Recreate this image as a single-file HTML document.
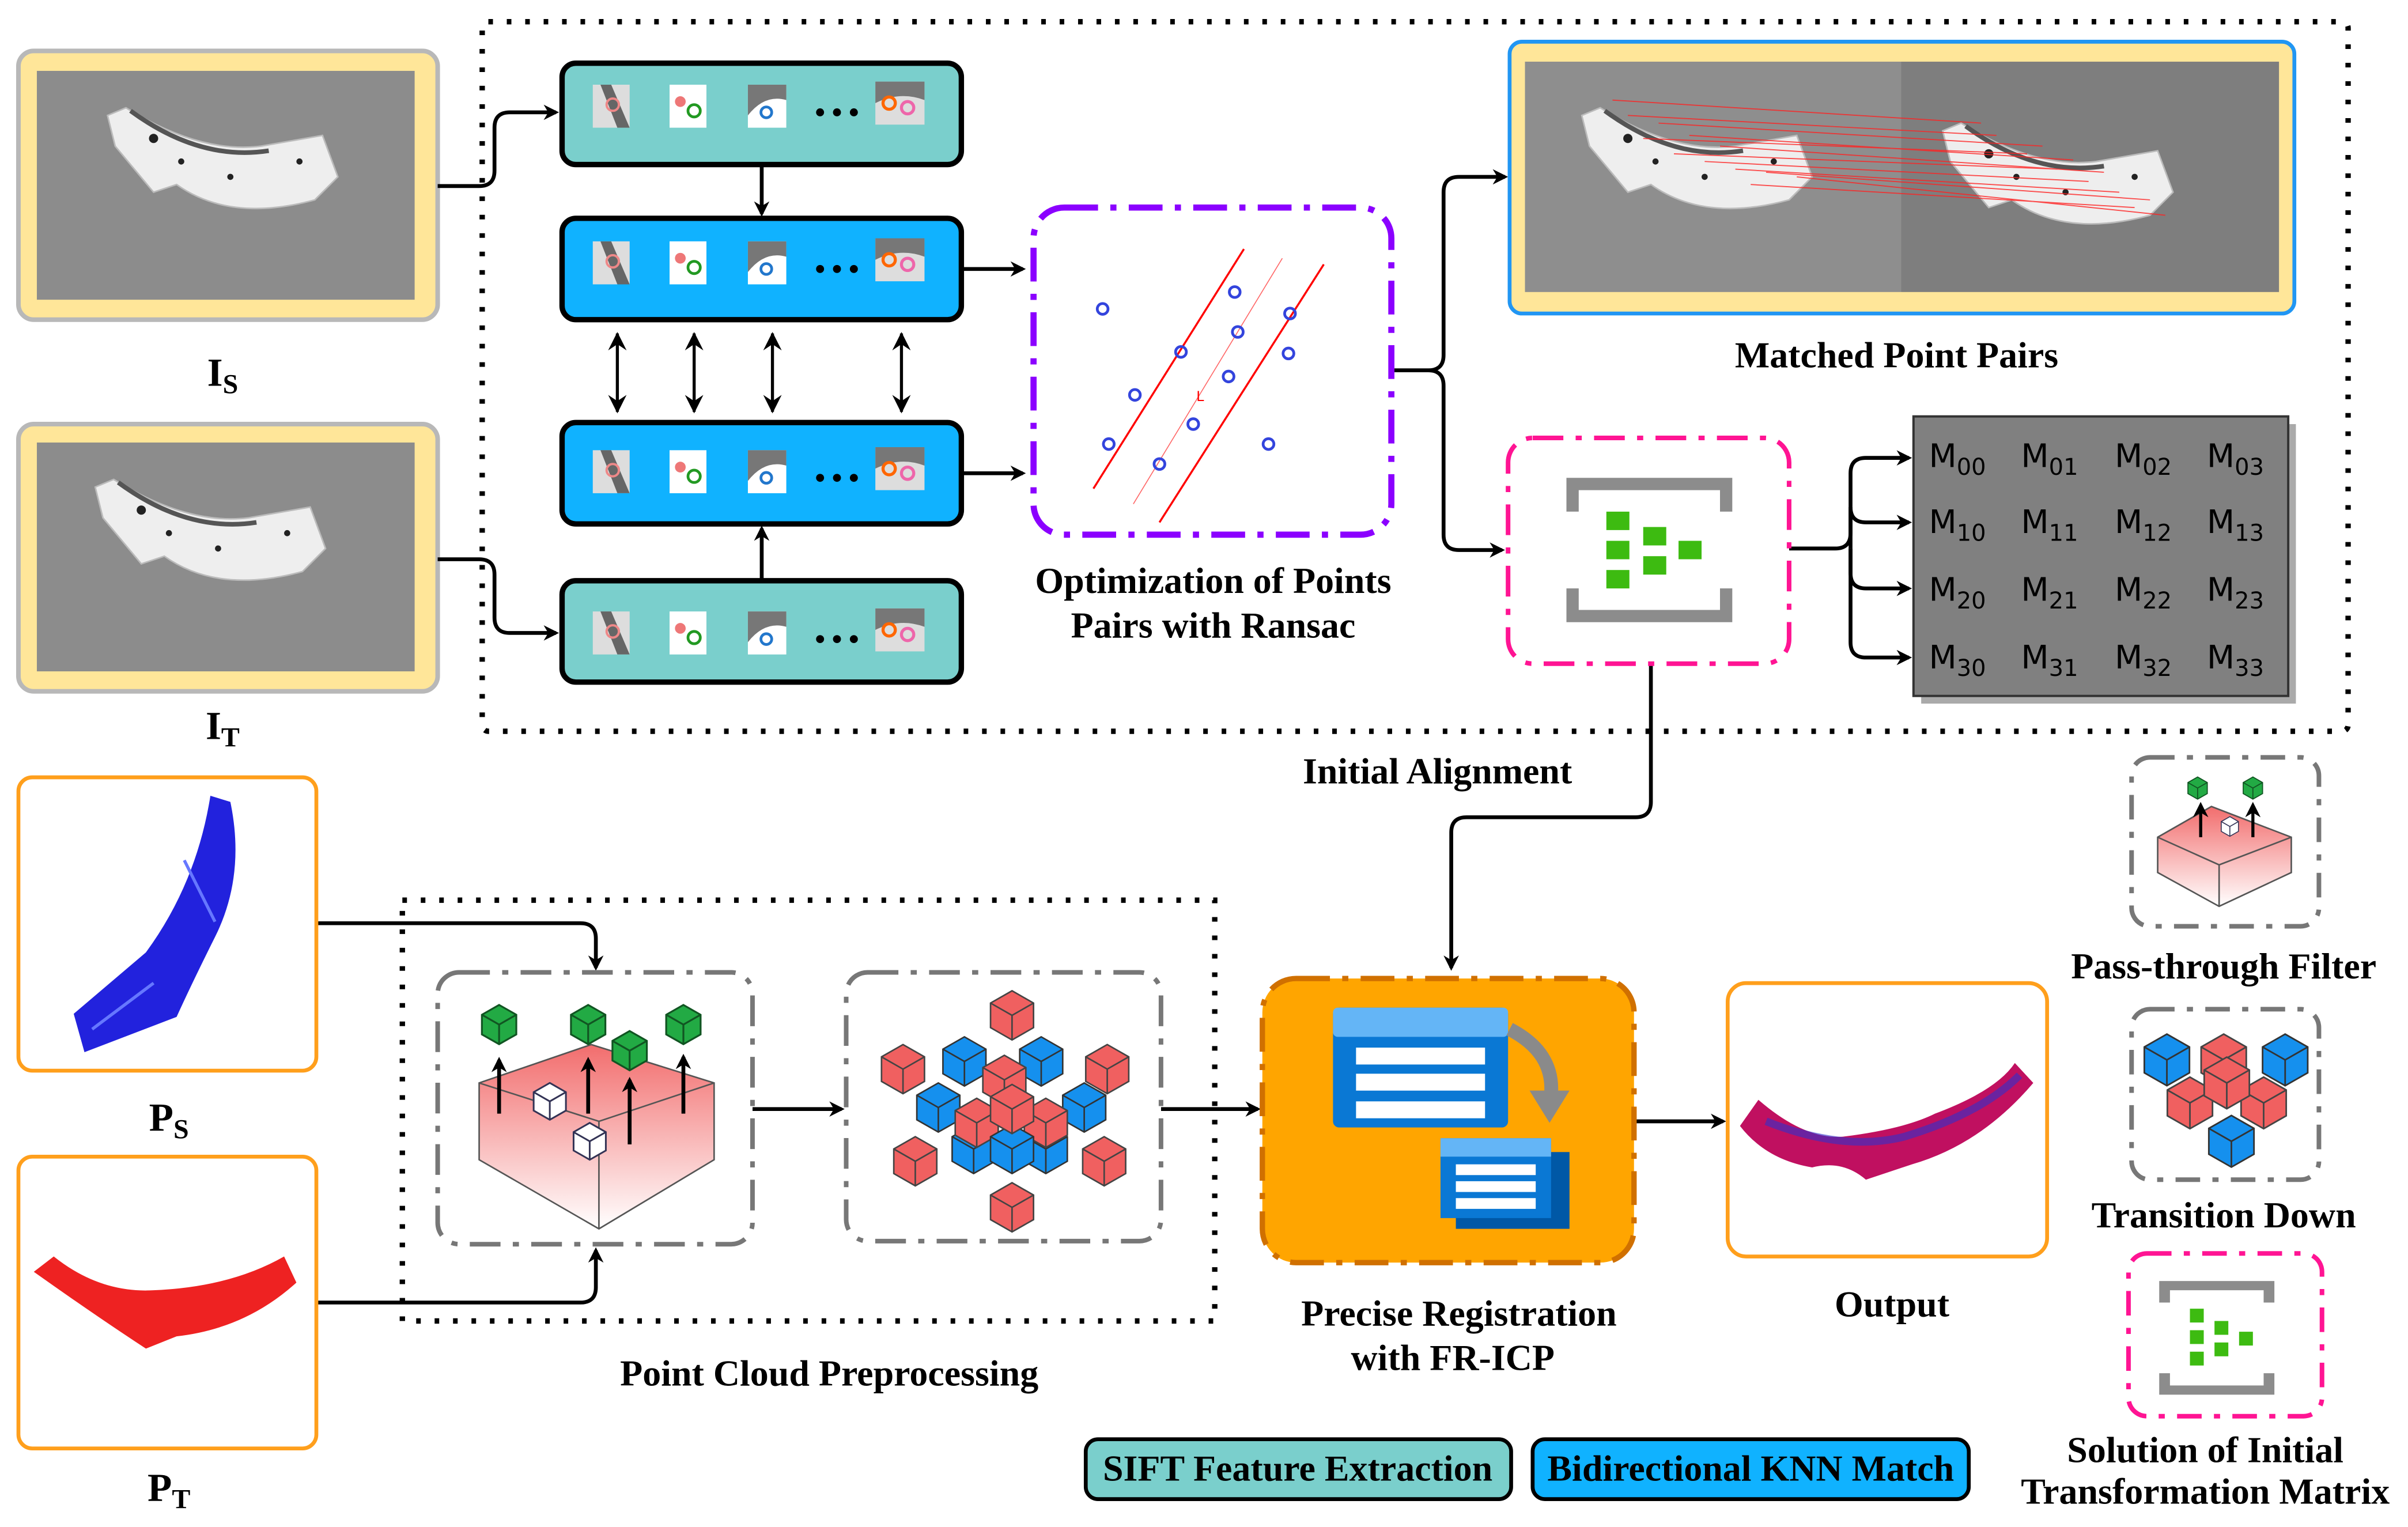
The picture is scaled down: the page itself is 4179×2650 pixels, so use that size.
<!DOCTYPE html>
<html><head><meta charset="utf-8"><style>
html,body{margin:0;padding:0;background:#fff}
svg{display:block}
text{font-family:"Liberation Serif",serif;font-weight:bold;fill:#000}
text.m{font-family:"DejaVu Sans","Liberation Sans",sans-serif;font-weight:normal}
</style></head><body>
<svg width="4179" height="2650" viewBox="0 0 1568 994" xmlns="http://www.w3.org/2000/svg">
<defs>
<marker id="ah" markerWidth="10" markerHeight="10" refX="8" refY="5" orient="auto" markerUnits="userSpaceOnUse"><path d="M0,0 L10,5 L0,10 L3,5 z" fill="#000"/></marker>
<marker id="ahs" markerWidth="12" markerHeight="12" refX="11" refY="6" orient="auto-start-reverse" markerUnits="userSpaceOnUse"><path d="M0,0 L12,6 L0,12 L4,6 z" fill="#000"/></marker>
<linearGradient id="pg" x1="0" y1="0" x2="0" y2="1"><stop offset="0" stop-color="#f26d6d"/><stop offset="1" stop-color="#fff"/></linearGradient>
<g id="cr"><path d="M0,-16 L14,-8 L14,8 L0,16 L-14,8 L-14,-8 z" fill="#f06060" stroke="#444" stroke-width="1"/><path d="M-14,-8 L0,0 L14,-8 M0,0 V16" fill="none" stroke="#444" stroke-width="1"/></g>
<g id="cb"><path d="M0,-16 L14,-8 L14,8 L0,16 L-14,8 L-14,-8 z" fill="#1590ee" stroke="#333" stroke-width="1"/><path d="M-14,-8 L0,0 L14,-8 M0,0 V16" fill="none" stroke="#333" stroke-width="1"/></g>
<g id="cg"><path d="M0,-16 L14,-8 L14,8 L0,16 L-14,8 L-14,-8 z" fill="#22aa44" stroke="#115522" stroke-width="1.5"/><path d="M-14,-8 L0,0 L14,-8 M0,0 V16" fill="none" stroke="#115522" stroke-width="1.5"/></g>
<g id="cw"><path d="M0,-16 L14,-8 L14,8 L0,16 L-14,8 L-14,-8 z" fill="#fff" stroke="#335" stroke-width="1.5"/><path d="M-14,-8 L0,0 L14,-8 M0,0 V16" fill="none" stroke="#335" stroke-width="1.5"/></g>
<g id="thumbs">
 <rect x="0" y="0" width="24" height="28" fill="#ddd"/><path d="M5,0 L12,0 L24,28 L16,28 z" fill="#666"/><circle cx="13" cy="13" r="4" fill="none" stroke="#e88" stroke-width="1.5"/>
 <rect x="50" y="0" width="24" height="28" fill="#fff"/><circle cx="57" cy="11" r="3.5" fill="#e77"/><circle cx="66" cy="17" r="4" fill="none" stroke="#292" stroke-width="1.8"/>
 <rect x="101" y="0" width="25" height="28" fill="#fff"/><path d="M101,0 H126 V10 Q112,6 101,20 z" fill="#777"/><circle cx="113" cy="18" r="3.5" fill="none" stroke="#27c" stroke-width="1.8"/>
 <circle cx="148" cy="18" r="2.6" fill="#000"/><circle cx="159" cy="18" r="2.6" fill="#000"/><circle cx="170" cy="18" r="2.6" fill="#000"/>
 <rect x="184" y="-2" width="32" height="28" fill="#ddd"/><path d="M184,-2 H216 V10 Q200,4 184,12 z" fill="#777"/><circle cx="193" cy="12" r="4" fill="none" stroke="#f60" stroke-width="2"/><circle cx="205" cy="15" r="4" fill="none" stroke="#e6a" stroke-width="2"/>
</g>
<g id="part">
 <path d="M50,55 L62,50 Q110,80 150,75 L190,68 L200,95 L185,110 Q130,125 95,100 L80,105 L55,75 Z" fill="#eee" stroke="#bbb"/>
 <path d="M65,52 Q110,85 155,78" fill="none" stroke="#555" stroke-width="3"/>
 <circle cx="80" cy="70" r="3" fill="#222"/><circle cx="98" cy="85" r="2" fill="#222"/><circle cx="130" cy="95" r="2" fill="#222"/><circle cx="175" cy="85" r="2" fill="#222"/>
</g>
</defs>

<rect x="314" y="14" width="1215" height="462" rx="4" fill="none" stroke="#000" stroke-width="3.5" stroke-dasharray="3,9"/>

<rect x="12" y="33" width="273" height="175" rx="10" fill="#FFE699" stroke="#B8B8B8" stroke-width="3"/>
<rect x="24" y="46" width="246" height="149" fill="#8c8c8c"/>
<use href="#part" x="20" y="20"/>
<text x="145" y="251" font-size="26" text-anchor="middle">I<tspan font-size="18" dy="5">S</tspan></text>
<rect x="12" y="276" width="273" height="174" rx="10" fill="#FFE699" stroke="#B8B8B8" stroke-width="3"/>
<rect x="24" y="288" width="246" height="149" fill="#8c8c8c"/>
<use href="#part" x="12" y="262"/>
<text x="145" y="481" font-size="26" text-anchor="middle">I<tspan font-size="18" dy="5">T</tspan></text>

<rect x="366" y="41" width="260" height="66" rx="9" fill="#7ACFCC" stroke="#000" stroke-width="3.5"/>
<use href="#thumbs" x="386" y="55"/>
<rect x="366" y="142" width="260" height="66" rx="9" fill="#10B2FF" stroke="#000" stroke-width="3.5"/>
<use href="#thumbs" x="386" y="157"/>
<rect x="366" y="275" width="260" height="66" rx="9" fill="#10B2FF" stroke="#000" stroke-width="3.5"/>
<use href="#thumbs" x="386" y="293"/>
<rect x="366" y="378" width="260" height="66" rx="9" fill="#7ACFCC" stroke="#000" stroke-width="3.5"/>
<use href="#thumbs" x="386" y="398"/>

<g fill="none" stroke="#000" stroke-width="2.5">
<path d="M285,121 H312 Q322,121 322,111 V83 Q322,73 332,73 H362" marker-end="url(#ah)"/>
<path d="M285,364 H312 Q322,364 322,374 V402 Q322,412 332,412 H362" marker-end="url(#ah)"/>
<path d="M496,107 V139" marker-end="url(#ah)"/>
<path d="M496,378 V344" marker-end="url(#ah)"/>
<path d="M402,217 V268" marker-start="url(#ahs)" marker-end="url(#ahs)" stroke-width="2"/>
<path d="M452,217 V268" marker-start="url(#ahs)" marker-end="url(#ahs)" stroke-width="2"/>
<path d="M503,217 V268" marker-start="url(#ahs)" marker-end="url(#ahs)" stroke-width="2"/>
<path d="M587,217 V268" marker-start="url(#ahs)" marker-end="url(#ahs)" stroke-width="2"/>
<path d="M626,175 H666" marker-end="url(#ah)"/>
<path d="M626,308 H666" marker-end="url(#ah)"/>
<path d="M906,241 H930 Q940,241 940,231 V125 Q940,115 950,115 H980" marker-end="url(#ah)"/>
<path d="M906,241 H930 Q940,241 940,251 V348 Q940,358 950,358 H978" marker-end="url(#ah)"/>
<path d="M1165,357 H1195 Q1205,357 1205,347 V308 Q1205,298 1215,298 H1243" marker-end="url(#ah)"/>
<path d="M1205,357 V330 Q1205,340 1215,340 H1243" marker-end="url(#ah)"/>
<path d="M1205,357 V373 Q1205,383 1215,383 H1243" marker-end="url(#ah)"/>
<path d="M1205,357 V418 Q1205,428 1215,428 H1243" marker-end="url(#ah)"/>
<path d="M1075,432 V522 Q1075,532 1065,532 H955 Q945,532 945,542 V630" marker-end="url(#ah)"/>
<path d="M206,601 H378 Q388,601 388,611 V630" marker-end="url(#ah)"/>
<path d="M206,848 H378 Q388,848 388,838 V814" marker-end="url(#ah)"/>
<path d="M490,722 H548" marker-end="url(#ah)"/>
<path d="M756,722 H819" marker-end="url(#ah)"/>
<path d="M1064,730 H1122" marker-end="url(#ah)"/>
</g>

<rect x="673" y="135" width="233" height="213" rx="20" fill="#fff" stroke="#8B00FF" stroke-width="4" stroke-dasharray="22,8,4,8"/>
<g stroke="#f00" stroke-width="1.3"><line x1="712" y1="318" x2="810" y2="162"/><line x1="755" y1="340" x2="862" y2="172"/></g>
<line x1="738" y1="328" x2="835" y2="168" stroke="#f66" stroke-width="0.6"/>
<g fill="none" stroke="#3344dd" stroke-width="1.8">
<circle cx="718" cy="201" r="3.5"/><circle cx="769" cy="229" r="3.5"/><circle cx="739" cy="257" r="3.5"/><circle cx="722" cy="289" r="3.5"/><circle cx="755" cy="302" r="3.5"/><circle cx="804" cy="190" r="3.5"/><circle cx="806" cy="216" r="3.5"/><circle cx="800" cy="245" r="3.5"/><circle cx="777" cy="276" r="3.5"/><circle cx="840" cy="204" r="3.5"/><circle cx="839" cy="230" r="3.5"/><circle cx="826" cy="289" r="3.5"/></g>
<text x="779" y="261" font-size="9" class="m" style="fill:#f00">L</text>
<text x="790" y="386" font-size="24" text-anchor="middle">Optimization of Points</text>
<text x="790" y="415" font-size="24" text-anchor="middle">Pairs with Ransac</text>

<rect x="983" y="27" width="511" height="177" rx="8" fill="#FFE699" stroke="#2196F3" stroke-width="2.5"/>
<rect x="993" y="40" width="245" height="150" fill="#8e8e8e"/><rect x="1238" y="40" width="246" height="150" fill="#7e7e7e"/>
<use href="#part" x="980" y="20"/><use href="#part" x="1215" y="30"/>
<g stroke="#f22" stroke-width="0.7" opacity="0.8">
<line x1="1060" y1="75" x2="1300" y2="88"/><line x1="1070" y1="90" x2="1320" y2="100"/><line x1="1090" y1="100" x2="1340" y2="110"/><line x1="1110" y1="105" x2="1360" y2="118"/><line x1="1130" y1="110" x2="1380" y2="125"/><line x1="1150" y1="112" x2="1400" y2="130"/><line x1="1080" y1="80" x2="1330" y2="95"/><line x1="1100" y1="88" x2="1350" y2="104"/><line x1="1120" y1="95" x2="1370" y2="112"/><line x1="1140" y1="120" x2="1390" y2="135"/><line x1="1170" y1="115" x2="1410" y2="140"/><line x1="1050" y1="65" x2="1290" y2="80"/></g>
<text x="1235" y="239" font-size="24" text-anchor="middle">Matched Point Pairs</text>

<rect x="982" y="285" width="183" height="147" rx="16" fill="#fff" stroke="#FF1493" stroke-width="3" stroke-dasharray="20,8,4,8"/>
<g fill="#8c8c8c"><path d="M1020,311 H1128 V333 H1120 V319 H1028 V333 H1020 z"/><path d="M1020,405 H1128 V383 H1120 V397 H1028 V383 H1020 z"/></g>
<g fill="#3dbb11"><rect x="1046" y="333" width="15" height="12"/><rect x="1046" y="352" width="15" height="12"/><rect x="1046" y="371" width="15" height="12"/><rect x="1070" y="343" width="15" height="12"/><rect x="1070" y="362" width="15" height="12"/><rect x="1093" y="352" width="15" height="12"/></g>

<rect x="1251" y="276" width="244" height="182" fill="#aaa"/>
<rect x="1246" y="271" width="244" height="182" fill="#808080" stroke="#333" stroke-width="1.5"/>
<text class="m" x="1256" y="304" font-size="21">M<tspan font-size="15" dy="5">00</tspan></text><text class="m" x="1316" y="304" font-size="21">M<tspan font-size="15" dy="5">01</tspan></text><text class="m" x="1377" y="304" font-size="21">M<tspan font-size="15" dy="5">02</tspan></text><text class="m" x="1437" y="304" font-size="21">M<tspan font-size="15" dy="5">03</tspan></text>
<text class="m" x="1256" y="347" font-size="21">M<tspan font-size="15" dy="5">10</tspan></text><text class="m" x="1316" y="347" font-size="21">M<tspan font-size="15" dy="5">11</tspan></text><text class="m" x="1377" y="347" font-size="21">M<tspan font-size="15" dy="5">12</tspan></text><text class="m" x="1437" y="347" font-size="21">M<tspan font-size="15" dy="5">13</tspan></text>
<text class="m" x="1256" y="391" font-size="21">M<tspan font-size="15" dy="5">20</tspan></text><text class="m" x="1316" y="391" font-size="21">M<tspan font-size="15" dy="5">21</tspan></text><text class="m" x="1377" y="391" font-size="21">M<tspan font-size="15" dy="5">22</tspan></text><text class="m" x="1437" y="391" font-size="21">M<tspan font-size="15" dy="5">23</tspan></text>
<text class="m" x="1256" y="435" font-size="21">M<tspan font-size="15" dy="5">30</tspan></text><text class="m" x="1316" y="435" font-size="21">M<tspan font-size="15" dy="5">31</tspan></text><text class="m" x="1377" y="435" font-size="21">M<tspan font-size="15" dy="5">32</tspan></text><text class="m" x="1437" y="435" font-size="21">M<tspan font-size="15" dy="5">33</tspan></text>
<text x="936" y="510" font-size="24" text-anchor="middle">Initial Alignment</text>

<rect x="12" y="506" width="194" height="191" rx="9" fill="#fff" stroke="#FF9F1C" stroke-width="2.5"/>
<path d="M137,518 L150,522 Q160,570 140,610 Q125,640 115,662 L55,685 L48,660 L95,620 Q128,575 137,518 z" fill="#2222dd"/>
<path d="M60,670 L100,640 M120,560 L140,600" stroke="#6677ff" stroke-width="2" fill="none"/>
<text x="110" y="736" font-size="26" text-anchor="middle">P<tspan font-size="18" dy="5">S</tspan></text>
<rect x="12" y="753" width="194" height="190" rx="9" fill="#fff" stroke="#FF9F1C" stroke-width="2.5"/>
<path d="M22,828 L35,818 Q65,842 100,840 Q150,838 185,818 L193,835 Q160,865 115,870 L95,878 Q60,855 22,828 z" fill="#ee2222"/>
<text x="110" y="977" font-size="26" text-anchor="middle">P<tspan font-size="18" dy="5">T</tspan></text>

<rect x="262" y="586" width="529" height="274" fill="none" stroke="#000" stroke-width="3.5" stroke-dasharray="3,9"/>
<rect x="285" y="633" width="205" height="177" rx="14" fill="#fff" stroke="#777" stroke-width="3" stroke-dasharray="20,8,4,8"/>
<path d="M312,705 L385,680 L465,705 L465,755 L390,800 L312,755 z" fill="url(#pg)" stroke="#555"/>
<path d="M312,705 L390,730 L465,705 M390,730 V800" fill="none" stroke="#555"/>
<use href="#cg" transform="translate(325,667) scale(0.8)"/><use href="#cg" transform="translate(383,667) scale(0.8)"/><use href="#cg" transform="translate(410,684) scale(0.8)"/><use href="#cg" transform="translate(445,667) scale(0.8)"/>
<use href="#cw" transform="translate(358,717) scale(0.75)"/><use href="#cw" transform="translate(384,743) scale(0.75)"/>
<g stroke="#000" stroke-width="2.5" fill="none"><path d="M325,725 V690" marker-end="url(#ah)"/><path d="M383,725 V690" marker-end="url(#ah)"/><path d="M410,745 V703" marker-end="url(#ah)"/><path d="M445,725 V688" marker-end="url(#ah)"/></g>

<rect x="551" y="633" width="205" height="175" rx="14" fill="#fff" stroke="#777" stroke-width="3" stroke-dasharray="20,8,4,8"/>
<use href="#cr" transform="translate(659,661)"/><use href="#cr" transform="translate(588,696)"/><use href="#cr" transform="translate(721,696)"/><use href="#cr" transform="translate(596,756)"/><use href="#cr" transform="translate(719,756)"/><use href="#cr" transform="translate(659,786)"/>
<use href="#cb" transform="translate(628,691)"/><use href="#cb" transform="translate(678,691)"/><use href="#cb" transform="translate(611,721)"/><use href="#cb" transform="translate(706,721)"/><use href="#cb" transform="translate(634,748)"/><use href="#cb" transform="translate(681,748)"/>
<use href="#cr" transform="translate(654,703)"/><use href="#cr" transform="translate(636,731)"/><use href="#cr" transform="translate(681,731)"/>
<use href="#cb" transform="translate(659,748)"/><use href="#cr" transform="translate(659,722)"/>
<text x="540" y="902" font-size="24" text-anchor="middle">Point Cloud Preprocessing</text>

<rect x="822" y="637" width="242" height="185" rx="22" fill="#FFA500" stroke="#D07000" stroke-width="3.5" stroke-dasharray="22,8,4,8"/>
<rect x="868" y="656" width="114" height="78" rx="4" fill="#0a78d4"/><rect x="868" y="656" width="114" height="19" rx="3" fill="#64b5f6"/>
<g fill="#fff"><rect x="883" y="682" width="84" height="11"/><rect x="883" y="699" width="84" height="11"/><rect x="883" y="717" width="84" height="11"/></g>
<path d="M983,670 Q1012,685 1010,712" fill="none" stroke="#8a8a8a" stroke-width="9"/><path d="M996,710 L1022,710 L1009,731 z" fill="#8a8a8a"/>
<rect x="948" y="750" width="74" height="50" fill="#0058a6"/>
<rect x="938" y="741" width="72" height="52" fill="#0a78d4"/><rect x="938" y="741" width="72" height="12" fill="#64b5f6"/>
<g fill="#fff"><rect x="948" y="758" width="52" height="7"/><rect x="948" y="769" width="52" height="7"/><rect x="948" y="780" width="52" height="7"/></g>
<text x="950" y="863" font-size="24" text-anchor="middle">Precise Registration</text>
<text x="946" y="892" font-size="24" text-anchor="middle">with FR-ICP</text>

<rect x="1125" y="640" width="208" height="178" rx="12" fill="#fff" stroke="#FF9F1C" stroke-width="2.5"/>
<path d="M1133,733 L1145,716 Q1175,742 1200,740 Q1240,735 1260,725 Q1300,710 1312,692 L1324,705 Q1290,745 1245,758 L1215,768 Q1200,755 1180,760 Q1150,755 1133,733 z" fill="#c01060"/>
<path d="M1150,730 Q1200,750 1240,740 Q1290,725 1315,700" fill="none" stroke="#3030cc" stroke-width="5" opacity="0.6"/>
<text x="1232" y="857" font-size="24" text-anchor="middle">Output</text>

<rect x="707" y="937" width="277" height="39" rx="8" fill="#7ACFCC" stroke="#000" stroke-width="2.5"/>
<text x="845" y="964" font-size="24" text-anchor="middle">SIFT Feature Extraction</text>
<rect x="998" y="937" width="284" height="39" rx="8" fill="#10B2FF" stroke="#000" stroke-width="2.5"/>
<text x="1140" y="964" font-size="24" text-anchor="middle">Bidirectional KNN Match</text>

<rect x="1388" y="493" width="122" height="110" rx="12" fill="#fff" stroke="#777" stroke-width="3" stroke-dasharray="16,8,4,8"/>
<path d="M1405,545 L1440,525 L1492,545 L1492,568 L1445,590 L1405,568 z" fill="url(#pg)" stroke="#555"/>
<path d="M1405,545 L1445,563 L1492,545 M1445,563 V590" fill="none" stroke="#555"/>
<use href="#cg" transform="translate(1431,513) scale(0.45)"/><use href="#cg" transform="translate(1467,513) scale(0.45)"/>
<use href="#cw" transform="translate(1452,538) scale(0.4)"/>
<g stroke="#000" stroke-width="2" fill="none"><path d="M1433,545 V524" marker-end="url(#ah)"/><path d="M1467,545 V524" marker-end="url(#ah)"/></g>
<text x="1448" y="637" font-size="24" text-anchor="middle">Pass-through Filter</text>

<rect x="1388" y="657" width="122" height="111" rx="12" fill="#fff" stroke="#777" stroke-width="3" stroke-dasharray="16,8,4,8"/>
<use href="#cb" transform="translate(1411,690) scale(1.05)"/><use href="#cb" transform="translate(1488,690) scale(1.05)"/>
<use href="#cr" transform="translate(1448,690) scale(1.05)"/><use href="#cr" transform="translate(1426,718) scale(1.05)"/><use href="#cr" transform="translate(1474,718) scale(1.05)"/><use href="#cr" transform="translate(1450,705) scale(1.05)"/>
<use href="#cb" transform="translate(1453,743) scale(1.05)"/>
<text x="1448" y="799" font-size="24" text-anchor="middle">Transition Down</text>

<rect x="1386" y="816" width="126" height="106" rx="12" fill="#fff" stroke="#FF1493" stroke-width="3" stroke-dasharray="16,8,4,8"/>
<g fill="#8c8c8c"><path d="M1406,834 H1481 V848 H1474 V840 H1413 V848 H1406 z"/><path d="M1406,908 H1481 V894 H1474 V902 H1413 V894 H1406 z"/></g>
<g fill="#3dbb11"><rect x="1426" y="852" width="9" height="9"/><rect x="1426" y="866" width="9" height="9"/><rect x="1426" y="880" width="9" height="9"/><rect x="1442" y="860" width="9" height="9"/><rect x="1442" y="874" width="9" height="9"/><rect x="1458" y="867" width="9" height="9"/></g>
<text x="1436" y="952" font-size="24" text-anchor="middle">Solution of Initial</text>
<text x="1436" y="979" font-size="24" text-anchor="middle">Transformation Matrix</text>
</svg>
</body></html>
